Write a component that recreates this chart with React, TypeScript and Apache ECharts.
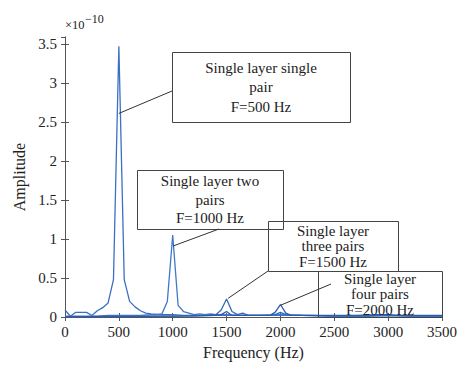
import React, { useEffect, useRef } from "react";
import * as echarts from "echarts";

// Series 1: single layer single pair (peak at 500 Hz)
const s1Freq = [0, 50, 100, 150, 200, 250, 300, 350, 400, 450, 500, 550, 600, 650, 700, 750, 800, 900, 1000, 1100, 1200, 1400, 1600, 1800, 2000, 2200, 2500, 2800, 3000, 3200, 3500];
const s1Amp = [0.09, 0.01, 0.06, 0.06, 0.06, 0.02, 0.08, 0.12, 0.18, 0.48, 3.47, 0.48, 0.2, 0.13, 0.08, 0.05, 0.04, 0.03, 0.03, 0.02, 0.02, 0.02, 0.02, 0.02, 0.02, 0.02, 0.01, 0.01, 0.02, 0.01, 0.01];

// Series 2: single layer two pairs (peak at 1000 Hz)
const s2Freq = [0, 100, 200, 300, 400, 500, 600, 700, 800, 850, 900, 950, 1000, 1050, 1100, 1150, 1200, 1250, 1300, 1350, 1400, 1500, 1600, 1800, 2000, 2200, 2500, 3000, 3500];
const s2Amp = [0.01, 0.01, 0.01, 0.01, 0.02, 0.02, 0.02, 0.02, 0.03, 0.03, 0.04, 0.2, 1.05, 0.15, 0.07, 0.05, 0.03, 0.04, 0.03, 0.04, 0.03, 0.03, 0.02, 0.02, 0.03, 0.02, 0.01, 0.02, 0.01];

// Series 3: single layer three pairs (peak at 1500 Hz)
const s3Freq = [0, 200, 400, 600, 800, 1000, 1200, 1300, 1350, 1400, 1450, 1500, 1550, 1600, 1650, 1700, 1750, 1800, 1900, 1950, 2000, 2050, 2100, 2300, 2500, 2800, 3000, 3200, 3500];
const s3Amp = [0.005, 0.005, 0.01, 0.01, 0.01, 0.01, 0.02, 0.02, 0.03, 0.03, 0.09, 0.23, 0.07, 0.03, 0.05, 0.02, 0.02, 0.02, 0.02, 0.03, 0.06, 0.03, 0.02, 0.02, 0.01, 0.01, 0.02, 0.01, 0.01];

// Series 4: single layer four pairs (peak at 2000 Hz)
const s4Freq = [0, 300, 600, 900, 1200, 1400, 1450, 1500, 1550, 1600, 1800, 1900, 1950, 2000, 2050, 2100, 2300, 2500, 2700, 2900, 3000, 3100, 3300, 3500];
const s4Amp = [0.005, 0.005, 0.005, 0.01, 0.01, 0.02, 0.03, 0.07, 0.02, 0.02, 0.02, 0.02, 0.06, 0.16, 0.05, 0.02, 0.02, 0.02, 0.02, 0.03, 0.03, 0.02, 0.02, 0.02];

const seriesColors = ["#3a6fc4", "#4178c9", "#3569bd", "#2a5bb0"];

// Annotation texts and the data point each one points at
const annoLines = [
  ["Single layer single", "pair", "F=500 Hz"],
  ["Single layer two", "pairs", "F=1000 Hz"],
  ["Single layer", "three pairs", "F=1500 Hz"],
  ["Single layer", "four pairs", "F=2000 Hz"],
];
const annoTargets = [
  [500, 2.61],
  [1003, 0.91],
  [1515, 0.24],
  [2000, 0.15],
];

const FONT = "'Liberation Serif', 'DejaVu Serif', serif";

function pairs(f: number[], a: number[]) {
  return f.map((x, i) => [x, a[i]]);
}

export default function App() {
  const ref = useRef<HTMLDivElement>(null);
  useEffect(() => {
    document.body.style.margin = "0";
    if (!ref.current) return;
    const chart = echarts.init(ref.current, undefined, { renderer: "svg" });
    const axisLineStyle = { color: "#555", width: 1 };
    const option: any = {
      animation: false,
      backgroundColor: "#fff",
      grid: { left: 65, right: 32, top: 37, bottom: 63 },
      xAxis: [
        {
          type: "value",
          min: 0,
          max: 3500,
          interval: 500,
          position: "bottom",
          name: "Frequency (Hz)",
          nameLocation: "middle",
          nameGap: 27,
          nameTextStyle: { fontFamily: FONT, fontSize: 16, color: "#222" },
          axisLine: { show: true, lineStyle: axisLineStyle },
          axisTick: { show: true, inside: true, length: 4, lineStyle: axisLineStyle },
          axisLabel: { fontFamily: FONT, fontSize: 15, color: "#222", margin: 7, formatter: (v: number) => String(v) },
          splitLine: { show: false },
        },
        {
          type: "value",
          min: 0,
          max: 3500,
          interval: 500,
          position: "top",
          axisLine: { show: true, lineStyle: axisLineStyle },
          axisTick: { show: true, inside: true, length: 4, lineStyle: axisLineStyle },
          axisLabel: { show: false },
          splitLine: { show: false },
        },
      ],
      yAxis: [
        {
          type: "value",
          min: 0,
          max: 3.59,
          interval: 0.5,
          position: "left",
          name: "Amplitude",
          nameLocation: "middle",
          nameGap: 34,
          nameTextStyle: { fontFamily: FONT, fontSize: 16, color: "#222" },
          axisLine: { show: true, lineStyle: axisLineStyle },
          axisTick: { show: true, inside: true, length: 4, lineStyle: axisLineStyle },
          axisLabel: { fontFamily: FONT, fontSize: 15, color: "#222", margin: 8, showMaxLabel: false },
          splitLine: { show: false },
        },
        {
          type: "value",
          min: 0,
          max: 3.59,
          interval: 0.5,
          position: "right",
          axisLine: { show: true, lineStyle: axisLineStyle },
          axisTick: { show: true, inside: true, length: 4, lineStyle: axisLineStyle },
          axisLabel: { show: false },
          splitLine: { show: false },
        },
      ],
      series: [
        { f: s1Freq, a: s1Amp },
        { f: s2Freq, a: s2Amp },
        { f: s3Freq, a: s3Amp },
        { f: s4Freq, a: s4Amp },
      ].map((s, i) => ({
        type: "line",
        xAxisIndex: 0,
        yAxisIndex: 0,
        data: pairs(s.f, s.a),
        showSymbol: false,
        symbol: "none",
        lineStyle: { color: seriesColors[i], width: 1.3 },
        z: 2,
      })),
    };
    chart.setOption(option);

    const boxes = [
      { x: 172, y: 52, w: 178, h: 70, lh: 19.5 },
      { x: 137, y: 170, w: 146, h: 59, lh: 18.5 },
      { x: 268, y: 221, w: 130, h: 50, lh: 15.5 },
      { x: 318, y: 271, w: 124, h: 46, lh: 15.5 },
    ];
    const ends = [
      [172, 91],
      [219, 229],
      [268, 271],
      [331, 284],
    ];
    const graphics: any[] = [];
    boxes.forEach((b, i) => {
      graphics.push({
        type: "rect",
        shape: { x: b.x + 0.5, y: b.y + 0.5, width: b.w, height: b.h },
        style: { fill: "none", stroke: "#444", lineWidth: 1 },
        z: 10,
      });
      const n = annoLines[i].length;
      const cy = b.y + b.h / 2;
      annoLines[i].forEach((t, k) => {
        graphics.push({
          type: "text",
          x: b.x + b.w / 2,
          y: cy + (k - (n - 1) / 2) * b.lh,
          style: {
            text: t,
            fontFamily: FONT,
            fontSize: 15,
            fill: "#222",
            align: "center",
            verticalAlign: "middle",
          },
          z: 11,
        });
      });
      const p = chart.convertToPixel({ xAxisIndex: 0, yAxisIndex: 0 }, annoTargets[i]) as number[];
      graphics.push({
        type: "line",
        shape: { x1: p[0], y1: p[1], x2: ends[i][0], y2: ends[i][1] },
        style: { stroke: "#333", lineWidth: 1 },
        z: 10,
      });
    });
    graphics.push(
      {
        type: "text",
        x: 65,
        y: 25,
        style: { text: "×10", fontFamily: FONT, fontSize: 12.5, fill: "#222", verticalAlign: "middle" },
        z: 11,
      },
      {
        type: "text",
        x: 85,
        y: 19,
        style: { text: "−10", fontFamily: FONT, fontSize: 12, fill: "#222", verticalAlign: "middle" },
        z: 11,
      }
    );
    chart.setOption({ graphic: graphics });

    return () => chart.dispose();
  }, []);
  return <div ref={ref} style={{ width: 474, height: 380 }} />;
}
